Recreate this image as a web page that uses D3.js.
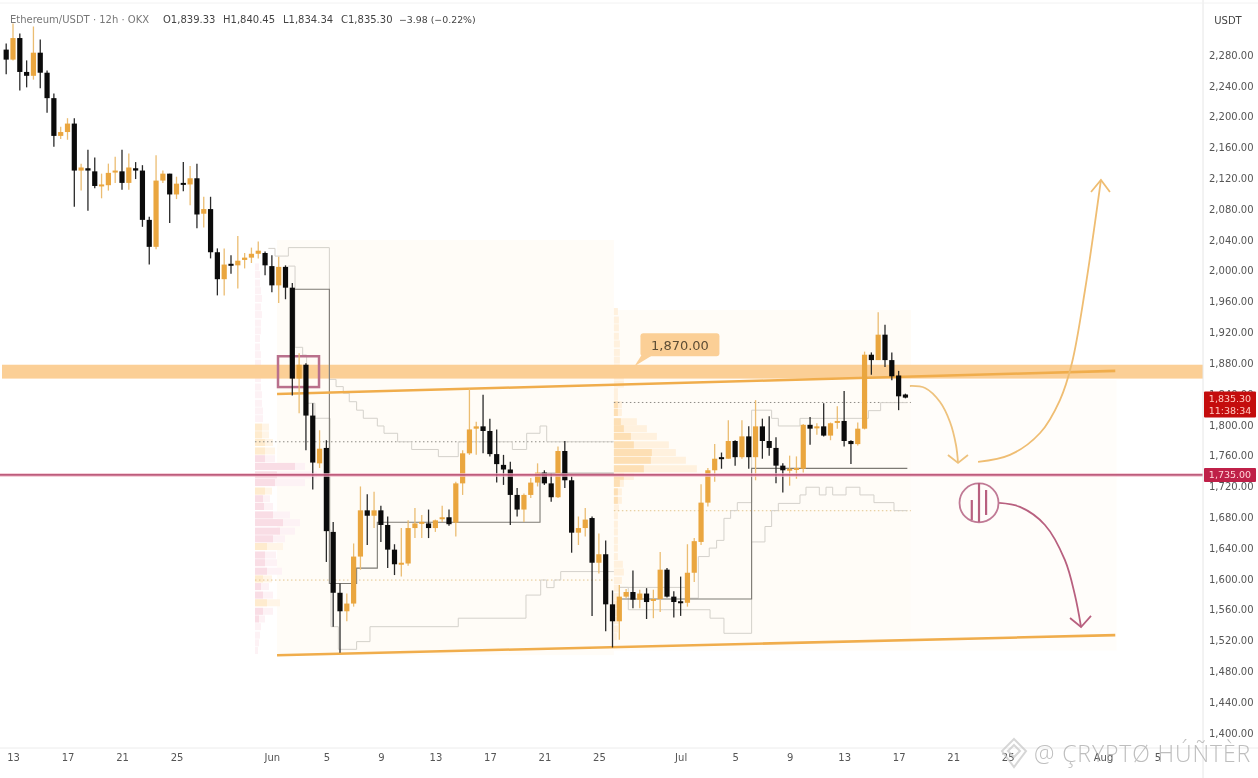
<!DOCTYPE html>
<html>
<head>
<meta charset="utf-8">
<script src="https://cdn.jsdelivr.net/npm/d3@7"></script>
<style>
  html, body { margin: 0; padding: 0; background: #fff; overflow: hidden; }
  text { font-family: "DejaVu Sans", sans-serif; }
  #chart { filter: blur(0.35px); }
</style>
</head>
<body>
<svg id="chart" width="1258" height="778"></svg>
<script>
// 12h candles, the first one opens May 12 12:00
const opens = [
  2287,2274,2302,2258,2253,2283,2257,2224,2175,2180,
  2191,2130,2133,2129,2110,2111,2128,2129,2114,2133,
  2130,2066,2031,2117,2126,2099,2114,2112,2120,2074,
  2080,2024,1989,2009,2007,2014,2017,2022,2023,2006,
  1981,2005,1978,1860,1878,1812,1750,1770,1661,1582,
  1558,1568,1629,1689,1682,1689,1670,1638,1619,1620,
  1666,1672,1672,1666,1678,1680,1673,1724,1763,1795,
  1798,1792,1762,1748,1742,1709,1690,1709,1725,1738,
  1724,1706,1766,1728,1660,1666,1679,1621,1632,1567,
  1545,1577,1583,1573,1581,1572,1574,1612,1577,1571,
  1569,1608,1648,1699,1741,1758,1756,1779,1758,1785,
  1758,1798,1779,1770,1747,1741,1743,1743,1800,1796,
  1798,1786,1803,1805,1779,1775,1795,1891,1884,1917,
  1884,1864,1839.33];
const highs = [
  2295,2321,2308,2273,2317,2300,2260,2230,2187,2198,
  2198,2139,2157,2147,2126,2139,2148,2157,2152,2141,
  2137,2070,2150,2130,2126,2122,2141,2136,2139,2096,
  2096,2029,2029,2020,2045,2023,2030,2038,2025,2020,
  2018,2007,1984,1893,1880,1828,1793,1780,1674,1594,
  1581,1646,1720,1710,1713,1695,1681,1645,1666,1676,
  1692,1683,1690,1677,1695,1690,1726,1767,1847,1804,
  1839,1808,1794,1761,1752,1718,1711,1731,1750,1741,
  1737,1772,1779,1733,1681,1692,1681,1659,1650,1585,
  1592,1587,1611,1586,1588,1586,1635,1614,1584,1603,
  1645,1653,1723,1744,1775,1764,1806,1780,1806,1798,
  1832,1808,1811,1784,1750,1760,1759,1801,1810,1802,
  1828,1803,1824,1844,1780,1803,1895,1894,1946,1930,
  1894,1870,1840.45];
const lows = [
  2255,2273,2234,2238,2248,2237,2205,2161,2171,2170,
  2083,2104,2078,2107,2094,2104,2114,2105,2105,2119,
  2057,2008,2028,2114,2062,2093,2103,2085,2055,2056,
  2016,1968,1968,1996,1977,2003,2010,2016,1994,1972,
  1958,1963,1838,1815,1767,1716,1744,1622,1538,1504,
  1545,1564,1612,1644,1666,1648,1614,1605,1603,1617,
  1653,1653,1653,1661,1674,1669,1655,1709,1761,1761,
  1763,1759,1725,1722,1670,1681,1674,1705,1720,1722,
  1700,1705,1718,1634,1644,1655,1552,1607,1532,1511,
  1521,1575,1562,1562,1548,1549,1557,1576,1550,1552,
  1564,1596,1644,1694,1726,1743,1756,1747,1756,1743,
  1728,1756,1760,1724,1712,1721,1730,1738,1774,1787,
  1785,1780,1795,1772,1749,1773,1794,1865,1884,1875,
  1858,1819,1834.34];
const closes = [
  2274,2302,2258,2253,2283,2257,2224,2175,2180,2191,
  2130,2134,2130,2110,2112,2127,2130,2114,2134,2130,
  2066,2031,2117,2126,2099,2113,2112,2120,2073,2080,
  2024,1989,2008,2007,2013,2017,2022,2026,2007,1981,
  2005,1978,1860,1878,1812,1751,1769,1662,1582,1558,
  1568,1629,1689,1682,1689,1670,1638,1619,1621,1666,
  1672,1674,1666,1676,1680,1671,1724,1763,1794,1798,
  1792,1762,1749,1742,1709,1690,1709,1725,1738,1724,
  1706,1766,1728,1660,1666,1677,1621,1632,1567,1545,
  1577,1583,1573,1581,1570,1574,1612,1577,1570,1569,
  1608,1649,1699,1741,1756,1756,1779,1758,1785,1758,
  1798,1779,1770,1747,1741,1743,1744,1800,1795,1798,
  1786,1802,1805,1779,1775,1795,1891,1884,1917,1884,
  1863,1837,1835.30];

// axis labels
const priceTicks = [2280,2240,2200,2160,2120,2080,2040,2000,1960,1920,1880,1840,1800,
                    1760,1720,1680,1640,1600,1560,1520,1480,1440,1400];
const dateTickDays = [0,4,8,12,19,23,27,31,35,39,43,49,53,57,61,65,69,73,80,84];
const dateTickLabels = ["13","17","21","25","Jun","5","9","13","17","21","25",
                        "Jul","5","9","13","17","21","25","Aug","5"];

// header pieces
const headerName = "Ethereum/USDT · 12h · OKX";
const headerValues = ["O1,839.33","H1,840.45","L1,834.34","C1,835.30","−3.98 (−0.22%)"];

// fixed range volume profile, first range
const leftProfilePrices = [2005,1995,1984,1974,1964,1953,1943,1932,1922,1912,1901,1891,1880,1870,1860,
  1849,1839,1828,1818,1808,1797,1787,1777,1766,1756,1746,1735,1725,1714,1704,1694,1683,1673,1662,1652,
  1642,1631,1621,1610,1600,1590,1579,1569,1558,1548,1538,1527,1517,1507];
const leftProfileTotal = [4,5,5,6,7,6,7,6,6,5,5,6,6,6,6,6,7,7,8,8,14,14,18,20,20,50,62,50,17,15,18,35,45,40,30,
  28,21,22,27,17,14,18,25,18,10,6,5,4,3];
const leftProfileCore = [0,0,0,0,0,0,0,0,0,0,0,0,0,0,0,0,0,0,0,0,7,7,10,10,10,40,22,20,10,8,9,18,28,25,18,
  12,10,10,12,8,6,8,12,8,4,0,0,0,0];
const leftProfileOrange = [1797,1787,1777,1766,1714,1642,1600,1569];

// second range
const rightProfilePrices = [1947,1936,1926,1915,1905,1894,1884,1874,1863,1853,1843,1836,1826,1816,1804,1795,1785,
  1774,1764,1754,1743,1733,1724,1713,1702,1692,1682,1671,1661,1650,1640,1629,1619,1609,1598,1588,1577,1567,1556,1546,1535,1525];
const rightProfileTotal = [4,5,5,5,6,6,6,6,10,10,4,4,8,8,23,33,43,55,62,72,83,20,10,8,8,5,4,4,4,4,4,4,9,10,8,6,6,6,5,5,4,3];
const rightProfileCore = [0,0,0,0,0,0,0,0,0,0,0,0,4,4,7,10,17,20,38,37,30,10,6,4,4,0,0,0,0,0,0,0,0,0,0,0,0,0,0,0,0,0];

// developing POC and value area lines: [days since May 13, price]
const leftPoc = [[20.33,1976],[23.22,1594],[25.22,1614],[26.74,1673.5],[38.68,1737],[44.1,1737]];
const leftHigh = [[18.74,2029],[19.23,2019],[20.21,2030],[23.22,1859],[23.71,1849.6],[24.24,1841],[24.68,1830],
  [25.22,1819],[25.71,1808.5],[26.74,1798.5],[27.23,1789],[28.23,1778],[29.26,1768],[31.22,1758.7],[32.68,1778],
  [36.65,1768],[37.7,1789],[38.68,1798.5],[39.17,1778],[44.1,1778]];
const leftLow = [[20.2,2006],[20.7,1900.6],[21.26,1890.6],[21.55,1828],[22.16,1808.5],[23.27,1663.5],[23.34,1538],
  [23.88,1508.6],[25.22,1518.6],[26.2,1538],[32.68,1549],[37.65,1579],[38.73,1598.6],[39.17,1588.7],[39.71,1598.6],
  [40.2,1609.5],[44.1,1609.5]];
const rightPoc = [[44.55,1574],[54.21,1743.5],[65.64,1743.5]];
const rightHigh = [[44.55,1589],[49.57,1575],[50.3,1629],[51.1,1640],[51.64,1650],[52.18,1678.6],[52.67,1688.6],
  [53.16,1699],[54.21,1819],[55.68,1808.4],[56.17,1798.5],[57.76,1808.4],[62.78,1818.4],[63.68,1828.8],[65.64,1828.8]];
const rightLow = [[44.55,1589],[45.16,1560],[47.73,1560],[51.16,1549],[52.18,1529.4],[54.21,1648],[55.19,1668],
  [55.68,1688.6],[56.17,1698],[57.76,1709],[58.2,1719],[59.18,1709],[59.67,1719],[60.16,1709],[61.14,1719],
  [62.16,1709],[63.19,1699],[64.66,1688.6],[65.64,1688.6]];

// dotted value area limits: [from day, to day, price]
const dottedGrey = [[17.76,44.1,1778],[44.1,65.9,1829]];
const dottedOrange = [[17.76,44.1,1598.5],[44.1,65.9,1688.5]];

// drawn levels and channel
const bandPrices = [1860,1878];
const redLevel = 1735;
const lastClose = 1835.30;
const channelTop = [[19.38,1840],[80.9,1870]];
const channelBottom = [[19.38,1501],[80.9,1527]];
const markBox = [19.45,22.46,1889,1849];

// drawn arrows
const arrowDown = [[65.83,1850.4],[66.94,1847.8],[68.04,1829.6],[68.77,1803.7],[69.21,1773.8],[69.36,1750.5]];
const arrowDownHead = [[68.62,1760.9],[69.36,1750.5],[70.09,1760.9]];
const arrowUp = [[70.83,1751.8],[73.17,1760.9],[75.38,1789.4],[76.84,1832.2],[77.72,1880.3],[78.68,1975],[79.85,2117.8]];
const arrowUpHead = [[79.12,2102.2],[79.85,2117.8],[80.51,2102.2]];
const arrowPink = [[72.37,1698.6],[73.9,1693.4],[75.74,1670],[77.2,1624.6],[77.94,1579],[78.39,1537.6]];
const arrowPinkHead = [[77.58,1549.3],[78.39,1537.6],[79.12,1551.9]];
const badgeCenter = [70.9,1698.6];
const badgeBars = [[70.37,1702.4,1676.5],[70.9,1724.5,1673.9],[71.42,1715.4,1683]];

// shaded ranges: [from day, to day, top price, bottom price, colour]
const shades = [[19.38,44.1,2040,1501,"#fffcf7"],[44.1,65.9,1949,1507,"#fffcf7"],[65.9,81,1858,1507,"#fffdfa"]];

const svg = d3.select("#chart");
const w = 1258, h = 778;
const axisX = 1203, axisY = 748;
const orange = "#eaa63f", black = "#0b0b0b";

const may13 = Date.UTC(2024, 4, 13);
const day = n => new Date(may13 + n * 864e5);

const xScale = d3.scaleUtc().domain([day(0), day(80)]).range([13, 1103]);
const yScale = d3.scaleLinear().domain([1400, 2280]).range([733, 55]);
const X = n => xScale(day(n));
const Y = yScale;

// Shaded ranges
svg.append("g").selectAll("rect").data(shades).enter().append("rect")
  .attr("x", d => X(d[0])).attr("width", d => X(d[1]) - X(d[0]))
  .attr("y", d => Y(d[2])).attr("height", d => Y(d[3]) - Y(d[2]))
  .attr("fill", d => d[4]);

// Volume profiles
const volScale = d3.scaleLinear().domain([0, 83]).range([0, 83]);
function drawProfile(startDay, prices, total, core, colors, orangeRows) {
  const g = svg.append("g");
  const rowH = 7;
  prices.forEach((p, i) => {
    const isOrange = orangeRows === null || orangeRows.includes(p);
    g.append("rect").attr("x", X(startDay)).attr("y", Y(p) - rowH / 2)
      .attr("width", volScale(total[i])).attr("height", rowH)
      .attr("fill", isOrange ? colors[2] : colors[0]);
    g.append("rect").attr("x", X(startDay)).attr("y", Y(p) - rowH / 2)
      .attr("width", volScale(core[i])).attr("height", rowH)
      .attr("fill", isOrange ? colors[3] : colors[1]);
  });
}
drawProfile(17.76, leftProfilePrices, leftProfileTotal, leftProfileCore,
  ["#fdf2f5", "#f9dde5", "#fff5e7", "#feebce"], leftProfileOrange);
drawProfile(44.1, rightProfilePrices, rightProfileTotal, rightProfileCore,
  ["#fff1de", "#fddfb4", "#fff1de", "#fddfb4"], null);

// Resistance band
svg.append("rect")
  .attr("x", 2).attr("width", axisX - 2)
  .attr("y", Y(bandPrices[1])).attr("height", Y(bandPrices[0]) - Y(bandPrices[1]))
  .attr("fill", "#fbcf96");

// Dotted value area limits
function dotted(rows, color) {
  svg.append("g").selectAll("line").data(rows).enter().append("line")
    .attr("x1", d => X(d[0])).attr("x2", d => X(d[1]))
    .attr("y1", d => Y(d[2])).attr("y2", d => Y(d[2]))
    .attr("stroke", color).attr("stroke-width", 1).attr("stroke-dasharray", "1.5,2.5");
}
dotted(dottedGrey, "#8d8a84");
dotted(dottedOrange, "#e2c48e");

// Step lines
const stepLine = d3.line().x(d => X(d[0])).y(d => Y(d[1])).curve(d3.curveStepAfter);
[leftHigh, leftLow, rightHigh, rightLow].forEach(s => {
  svg.append("path").attr("d", stepLine(s)).attr("fill", "none")
    .attr("stroke", "#d4d1cb").attr("stroke-width", 1);
});
[leftPoc, rightPoc].forEach(s => {
  svg.append("path").attr("d", stepLine(s)).attr("fill", "none")
    .attr("stroke", "#7d7a74").attr("stroke-width", 1.1);
});

// Channel lines and marked box
const straight = d3.line().x(d => X(d[0])).y(d => Y(d[1]));
[channelTop, channelBottom].forEach(s => {
  svg.append("path").attr("d", straight(s)).attr("fill", "none")
    .attr("stroke", "#f0ad4c").attr("stroke-width", 2.6);
});
svg.append("rect")
  .attr("x", X(markBox[0])).attr("width", X(markBox[1]) - X(markBox[0]))
  .attr("y", Y(markBox[2])).attr("height", Y(markBox[3]) - Y(markBox[2]))
  .attr("fill", "none").attr("stroke", "#b9708c").attr("stroke-width", 2.5);

// Candles
const candles = opens.map((o, i) => ({
  t: new Date(may13 - 432e5 + i * 432e5), o: o, h: highs[i], l: lows[i], c: closes[i]
}));
const cg = svg.append("g").selectAll("g").data(candles).enter().append("g");
cg.append("line")
  .attr("x1", d => xScale(d.t)).attr("x2", d => xScale(d.t))
  .attr("y1", d => Y(d.h)).attr("y2", d => Y(d.l))
  .attr("stroke", d => d.c >= d.o ? "#ebbd72" : "#2a2a2a")
  .attr("stroke-width", 1.3);
cg.append("rect")
  .attr("x", d => xScale(d.t) - 2.6).attr("width", 5.2)
  .attr("y", d => Y(Math.max(d.o, d.c)))
  .attr("height", d => Math.max(Math.abs(Y(d.o) - Y(d.c)), 2))
  .attr("fill", d => d.c >= d.o ? orange : black);

// Support level
svg.append("line").attr("x1", 0).attr("x2", axisX).attr("y1", Y(redLevel)).attr("y2", Y(redLevel))
  .attr("stroke", "#f2bccb").attr("stroke-width", 4).attr("stroke-opacity", 0.7);
svg.append("line").attr("x1", 0).attr("x2", axisX).attr("y1", Y(redLevel)).attr("y2", Y(redLevel))
  .attr("stroke", "#b4486c").attr("stroke-width", 1.6).attr("stroke-opacity", 0.85);

// Level callout
const calloutX = X(46.05), calloutY = Y(1889);
svg.append("path")
  .attr("d", `M${calloutX + 1},${calloutY - 1}L${calloutX - 6},${calloutY + 10}L${calloutX + 12},${calloutY - 1}Z`)
  .attr("fill", "#fbcf96");
svg.append("rect").attr("x", calloutX).attr("y", calloutY - 23).attr("width", 79).attr("height", 23).attr("rx", 3)
  .attr("fill", "#fbcf96");
svg.append("text").attr("x", calloutX + 39.5).attr("y", calloutY - 6.5).attr("text-anchor", "middle")
  .attr("font-size", 13).attr("fill", "#5d4d35").text("1,870.00");

// Arrows
const curved = d3.line().x(d => X(d[0])).y(d => Y(d[1])).curve(d3.curveCatmullRom.alpha(0.5));
function arrow(points, head, color, width) {
  svg.append("path").attr("d", curved(points)).attr("fill", "none").attr("stroke", color).attr("stroke-width", width);
  svg.append("path").attr("d", straight(head)).attr("fill", "none").attr("stroke", color).attr("stroke-width", width);
}
arrow(arrowDown, arrowDownHead, "#eec27d", 1.8);
arrow(arrowUp, arrowUpHead, "#efbd72", 1.8);
arrow(arrowPink, arrowPinkHead, "#b8607f", 1.8);

svg.append("circle").attr("cx", X(badgeCenter[0])).attr("cy", Y(badgeCenter[1])).attr("r", 19.5)
  .attr("fill", "none").attr("stroke", "#c07a95").attr("stroke-width", 1.8);
svg.append("g").selectAll("line").data(badgeBars).enter().append("line")
  .attr("x1", d => X(d[0])).attr("x2", d => X(d[0]))
  .attr("y1", d => Y(d[1])).attr("y2", d => Y(d[2]))
  .attr("stroke", "#b8607f").attr("stroke-width", 2.2);

// Frame
svg.append("line").attr("x1", axisX).attr("x2", axisX).attr("y1", 0).attr("y2", h).attr("stroke", "#e6e6e6");
svg.append("line").attr("x1", 0).attr("x2", w).attr("y1", axisY).attr("y2", axisY).attr("stroke", "#ececec");
svg.append("line").attr("x1", 0).attr("x2", w).attr("y1", 3).attr("y2", 3).attr("stroke", "#f2f2f2");

// Price axis
const yAxis = d3.axisRight(yScale).tickValues(priceTicks).tickFormat(d3.format(",.2f")).tickSize(0).tickPadding(6);
const gy = svg.append("g").attr("transform", `translate(${axisX},0)`).call(yAxis);
gy.select(".domain").remove();
gy.selectAll("text").attr("font-size", 10).attr("fill", "#555").style("font-family", '"DejaVu Sans", sans-serif');
svg.append("text").attr("x", 1228).attr("y", 24).attr("text-anchor", "middle")
  .attr("font-size", 10).attr("fill", "#444").text("USDT");

// Time axis
const xAxis = d3.axisBottom(xScale).tickValues(dateTickDays.map(day))
  .tickFormat((d, i) => dateTickLabels[i]).tickSize(0).tickPadding(6);
const gx = svg.append("g").attr("transform", `translate(0,${axisY})`).call(xAxis);
gx.select(".domain").remove();
gx.selectAll("text").attr("font-size", 10).attr("fill", "#555").style("font-family", '"DejaVu Sans", sans-serif');

// Price tags
svg.append("rect").attr("x", axisX + 1).attr("y", Y(lastClose) - 6).attr("width", 52).attr("height", 26)
  .attr("rx", 1).attr("fill", "#c40d0d");
svg.append("text").attr("x", 1230).attr("y", Y(lastClose) + 4).attr("text-anchor", "middle")
  .attr("font-size", 9.5).attr("fill", "#ffc9c0").text("1,835.30");
svg.append("text").attr("x", 1230).attr("y", Y(lastClose) + 16.5).attr("text-anchor", "middle")
  .attr("font-size", 9.5).attr("fill", "#ffc9c0").text("11:38:34");
svg.append("rect").attr("x", axisX + 1).attr("y", Y(redLevel) - 7).attr("width", 52).attr("height", 14)
  .attr("rx", 1).attr("fill", "#bf2048");
svg.append("text").attr("x", 1230).attr("y", Y(redLevel) + 3.5).attr("text-anchor", "middle")
  .attr("font-size", 9.5).attr("fill", "#ffd3d8").text("1,735.00");

// Header
const headerX = [163, 223, 283, 341, 399];
svg.append("text").attr("x", 10).attr("y", 23).attr("font-size", 10).attr("fill", "#777").text(headerName);
svg.append("g").selectAll("text").data(headerValues).enter().append("text")
  .attr("x", (d, i) => headerX[i]).attr("y", 23).attr("font-size", (d, i) => i === 4 ? 9.4 : 10)
  .attr("fill", "#444").text(d => d);

// Watermark
const wm = svg.append("g").attr("opacity", 0.75);
wm.append("path").attr("d", "M1014,745l6,6l-6,6l-6,-6ZM1014,739l12,12l-12,16l-12,-16Z")
  .attr("fill", "none").attr("stroke", "#c9c9c9").attr("stroke-width", 2);
wm.append("text").attr("x", 1034).attr("y", 762).attr("font-size", 23).attr("fill", "#a9a9a9")
  .style("font-family", '"Open Sans", sans-serif').attr("font-weight", 300).attr("letter-spacing", 0.9)
  .text("@ ÇRYPTØ HÚÑTÈR");
</script>
</body>
</html>
